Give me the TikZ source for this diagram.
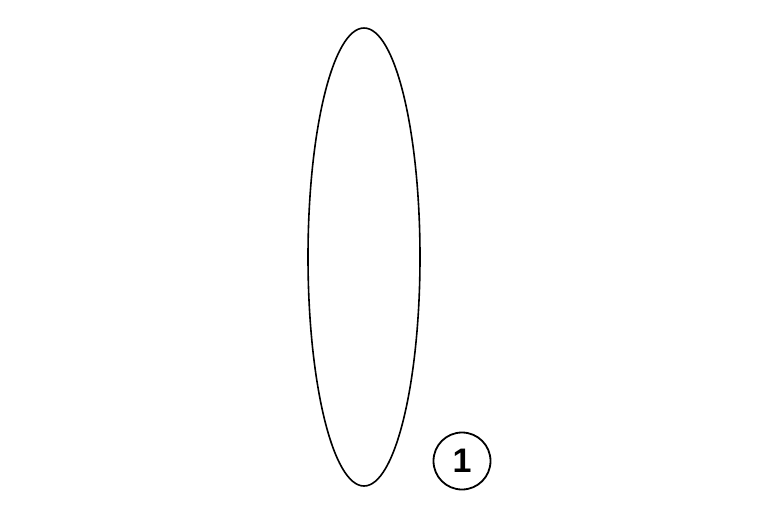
\documentclass[tikz,border=0pt]{standalone}
\usepackage{fontspec}
\setmainfont{Liberation Sans}
\begin{document}
\begin{tikzpicture}[x=1pt,y=-1pt,
  outline/.style={draw=black,line width=1.6pt},
  badge/.style={circle,draw=black,line width=1.8pt,minimum size=57pt,inner sep=0pt,font=\bfseries\fontsize{34}{34}\selectfont}]
\useasboundingbox (0,0) rectangle (768,512);
\draw[outline] (364,257) ellipse [x radius=56, y radius=229];
\node[badge] (n1) at (462,461) {1};
\end{tikzpicture}
\end{document}
